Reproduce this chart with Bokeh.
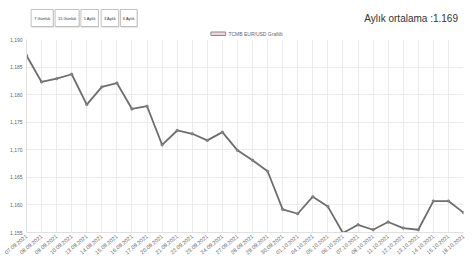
import math
from bokeh.plotting import figure
from bokeh.layouts import column
from bokeh.models import Range1d, FixedTicker, ColumnDataSource
from bokeh.core.properties import value
from bokeh.embed import file_html
from bokeh.resources import INLINE

dates = ["07.09.2021", "08.09.2021", "09.09.2021", "10.09.2021", "13.09.2021",
         "14.09.2021", "15.09.2021", "16.09.2021", "17.09.2021", "20.09.2021",
         "21.09.2021", "22.09.2021", "23.09.2021", "24.09.2021", "27.09.2021",
         "28.09.2021", "29.09.2021", "30.09.2021", "01.10.2021", "04.10.2021",
         "05.10.2021", "06.10.2021", "07.10.2021", "08.10.2021", "11.10.2021",
         "12.10.2021", "13.10.2021", "14.10.2021", "15.10.2021", "18.10.2021"]
rates = [1.1871, 1.1823, 1.1829, 1.1837, 1.1782, 1.1814, 1.1821, 1.1774, 1.1779, 1.1709,
         1.1735, 1.1729, 1.1717, 1.1732, 1.1699, 1.1681, 1.1661, 1.1592, 1.1584, 1.1615,
         1.1597, 1.1549, 1.1564, 1.1555, 1.1569, 1.1558, 1.1555, 1.1607, 1.1607, 1.1586]
y_ticks = [1.155, 1.160, 1.165, 1.170, 1.175, 1.180, 1.185, 1.190]
y_tick_labels = ["1,155", "1,160", "1,165", "1,170", "1,175", "1,180", "1,185", "1,190"]
buttons = ["7 Günlük", "15 Günlük", "1 Aylık", "3 Aylık", "6 Aylık"]
series_name = "TCMB EUR/USD Grafiği"
title_text = "Aylık ortalama :1.169"

W, H = 474, 263
HEAD = 36
FL, FT, FR, FB = 26, 39, 463, 232
FONT = "Liberation Sans"

# ---------- header (buttons, title, legend) ----------
h = figure(width=W, height=HEAD, output_backend="svg", toolbar_location=None,
           x_range=Range1d(0, W), y_range=Range1d(HEAD, 0),
           x_axis_location=None, y_axis_location=None, outline_line_color=None,
           min_border=0, min_border_left=0, min_border_right=0,
           min_border_top=0, min_border_bottom=0)
h.xgrid.visible = False
h.ygrid.visible = False

btn_l = [5, 31, 59, 81, 102]
btn_r = [29, 57, 78, 100, 120]
# shadows
h.quad(left=[l + 0.6 for l in btn_l], right=[r + 0.6 for r in btn_r],
       top=[9.8] * 5, bottom=[27] * 5, fill_color="#d2d2d2", line_color=None)
h.quad(left=btn_l, right=btn_r, top=[9] * 5, bottom=[26] * 5,
       fill_color="white", line_color="#b4b4b4", line_width=0.8)
h.text(x=[(l + r) / 2 for l, r in zip(btn_l, btn_r)], y=[17.5] * 5, text=buttons,
       text_font=value(FONT), text_font_size="4px", text_color="#333333",
       text_align="center", text_baseline="middle")

h.text(x=[468], y=[18], text=[title_text], text_font=value(FONT),
       text_font_size="10px", text_color="#333333", text_align="right",
       text_baseline="middle")

h.quad(left=[200], right=[216], top=[31.5], bottom=[35], fill_color="#f2d5dc",
       line_color="#8a8a8a", line_width=1)
h.text(x=[219], y=[33.3], text=[series_name], text_font=value(FONT),
       text_font_size="5px", text_color="#666666", text_align="left",
       text_baseline="middle")

# ---------- main chart ----------
p = figure(width=W, height=H - HEAD, output_backend="svg", toolbar_location=None,
           x_range=Range1d(0, len(dates) - 1), y_range=Range1d(y_ticks[0], y_ticks[-1]),
           min_border_left=FL, min_border_right=W - FR, min_border_top=FT - HEAD,
           min_border_bottom=H - FB, outline_line_color=None)

xs = list(range(len(dates)))
src = ColumnDataSource(dict(x=xs, y=rates))
p.line("x", "y", source=src, line_color="#6e6e6e", line_width=1.8)
p.scatter("x", "y", source=src, size=2.5, fill_color="#8a8a8a", line_color="#6e6e6e",
          line_width=0.6)

p.xaxis.ticker = FixedTicker(ticks=xs)
p.xaxis.major_label_overrides = {i: d for i, d in enumerate(dates)}
p.xaxis.major_label_orientation = math.radians(40)
p.yaxis.ticker = FixedTicker(ticks=y_ticks)
p.yaxis.major_label_overrides = {t: l for t, l in zip(y_ticks, y_tick_labels)}
for ax in (p.xaxis, p.yaxis):
    ax.major_tick_out = 0
    ax.major_tick_in = 0
    ax.minor_tick_out = 0
    ax.minor_tick_in = 0
    ax.axis_line_color = "#e0e0e0"
    ax.major_label_text_font = FONT
    ax.major_label_text_color = "#666666"
p.xaxis.major_label_text_font_size = "5.5px"
p.yaxis.major_label_text_font_size = "5px"
p.xaxis.major_label_standoff = 3
p.yaxis.major_label_standoff = 4
p.xgrid.grid_line_color = "#ececec"
p.ygrid.grid_line_color = "#ececec"
p.xgrid.ticker = FixedTicker(ticks=xs)
p.ygrid.ticker = FixedTicker(ticks=y_ticks)

layout = column(h, p, spacing=0)
open("out.html", "w").write(file_html(layout, INLINE))
